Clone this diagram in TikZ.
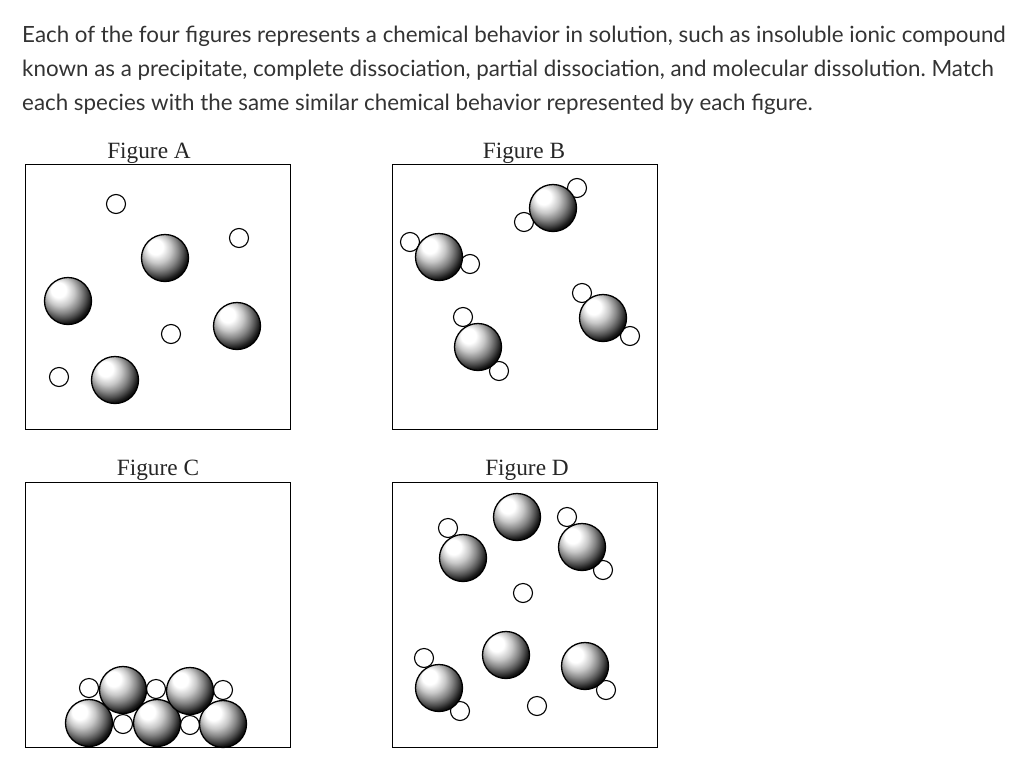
\documentclass[tikz,border=0pt]{standalone}
\usepackage{xcolor}
\usepackage{fontspec}
\setmainfont{Lato}
\newfontfamily\capfont{Liberation Serif}
\usetikzlibrary{positioning}

\pgfdeclareradialshading{atomshade}{\pgfpoint{-12bp}{14bp}}{
    color(0bp)=(white);
    color(8bp)=(white);
    color(15bp)=(black!22);
    color(21bp)=(black!48);
    color(25bp)=(black!68);
    color(29bp)=(black!90);
    color(32bp)=(black);
    color(50bp)=(black)
}

\begin{document}
\begin{tikzpicture}[
    x=1pt, y=-1pt,
    prompt/.style={anchor=base west, inner sep=0pt, font=\fontsize{22.35}{26}\selectfont\frenchspacing, text=black!80},
    caption/.style={anchor=base, inner sep=0pt, font=\capfont\fontsize{23.3}{26}\selectfont, text=black!85},
    panel/.style={draw=black, line width=0.9pt, minimum size=265.6pt, inner sep=0pt, outer sep=0pt, anchor=north west},
    big/.style={circle, draw=black, line width=1.3pt, shading=atomshade, minimum size=47pt, inner sep=0pt},
    small/.style={circle, draw=black, line width=1.1pt, fill=white, minimum size=19pt, inner sep=0pt}
]
\useasboundingbox (0,0) rectangle (1015,774);

% Question
\node[prompt] (line1) at (22,42) {Each of the four figures represents a chemical behavior in solution, such as insoluble ionic compound};
\node[prompt] (line2) at (22,76) {known as a precipitate, complete dissociation, partial dissociation, and molecular dissolution. Match};
\node[prompt] (line3) at (22,110) {each species with the same similar chemical behavior represented by each figure.};

% Panels
\node[panel] (panelA) at (25,164) {};
\node[panel] (panelB) at (392,164) {};
\node[panel] (panelC) at (25,482) {};
\node[panel] (panelD) at (392,482) {};

\node[caption] (capA) at (149,158) {Figure A};
\node[caption] (capB) at (524,158) {Figure B};
\node[caption] (capC) at (158,475) {Figure C};
\node[caption] (capD) at (527,475) {Figure D};

% Figure A
\node[small] (a1) at (116,204) {};
\node[small] (a2) at (239,238) {};
\node[small] (a3) at (171,334) {};
\node[small] (a4) at (59,377) {};
\node[big] (A1) at (165,258) {};
\node[big] (A2) at (68,301) {};
\node[big] (A3) at (237,326) {};
\node[big] (A4) at (115,380) {};

% Figure B
\node[small] (b1) at (577,188) {};
\node[small] (b2) at (524,222) {};
\node[small] (b3) at (410,242) {};
\node[small] (b4) at (470,264) {};
\node[small] (b5) at (463,317) {};
\node[small] (b6) at (499,371) {};
\node[small] (b7) at (582,293) {};
\node[small] (b8) at (630,336) {};
\node[big] (B1) at (553,208) {};
\node[big] (B2) at (439,257) {};
\node[big] (B3) at (478,347) {};
\node[big] (B4) at (603,318) {};

% Figure C
\node[small] (c1) at (89,688) {};
\node[small] (c2) at (123,724) {};
\node[small] (c3) at (156,689) {};
\node[small] (c4) at (190,725) {};
\node[small] (c5) at (223,690) {};
\node[big] (C1) at (89,723) {};
\node[big] (C2) at (157,723) {};
\node[big] (C3) at (223,724) {};
\node[big] (C4) at (123,690) {};
\node[big] (C5) at (190,691) {};

% Figure D
\node[small] (d1) at (448,528) {};
\node[small] (d2) at (567,517) {};
\node[small] (d3) at (603,570) {};
\node[small] (d4) at (523,593) {};
\node[small] (d5) at (606,690) {};
\node[small] (d6) at (424,658) {};
\node[small] (d7) at (460,711) {};
\node[small] (d8) at (537,706) {};
\node[big] (D1) at (517,517) {};
\node[big] (D2) at (463,558) {};
\node[big] (D3) at (582,547) {};
\node[big] (D4) at (506,655) {};
\node[big] (D5) at (585,666) {};
\node[big] (D6) at (439,688) {};

\end{tikzpicture}
\end{document}
